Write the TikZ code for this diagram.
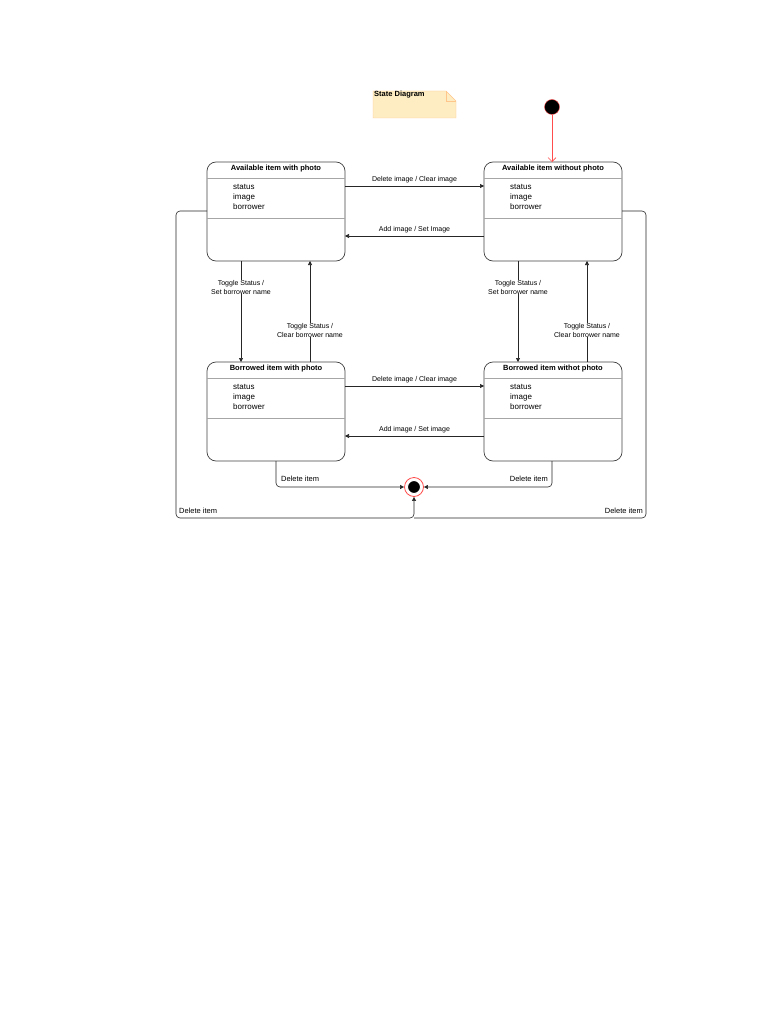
\documentclass[tikz,border=0pt]{standalone}
\usepackage{fontspec}
\setmainfont{Liberation Sans}
\usetikzlibrary{arrows.meta}
\begin{document}
\begin{tikzpicture}[x=1pt,y=-1pt,
  every node/.style={font=\fontsize{7.5}{8}\selectfont, inner sep=0pt},
  stbox/.style={draw=black!75, rounded corners=9pt, line width=0.7pt},
  sep/.style={draw=black!35, line width=0.6pt},
  conn/.style={draw=black!85, line width=0.6pt, -{Triangle[length=4pt,width=4pt]}},
  lbl/.style={align=center, font=\fontsize{7}{9}\selectfont}]
\useasboundingbox (0,0) rectangle (768,1024);
% note
\fill[yellow!45!orange!22, draw=orange!45] (373,91) -- (446,91) -- (456,101) -- (456,118) -- (373,118) -- cycle;
\draw[orange!45] (446,91) -- (446,101) -- (456,101);
\node[anchor=west, font=\bfseries\fontsize{7.5}{8}\selectfont] (note) at (374,95) {State Diagram};
% states
\foreach \n/\x/\y/\t in {awp/207/162/Available item with photo, awo/484/162/Available item without photo, bwp/207/362/Borrowed item with photo, bwo/484/362/Borrowed item withot photo}{
  \draw[stbox] (\x,\y) rectangle ++(138,99);
  \coordinate (\n) at (\x,\y);
  \draw[sep] (\x,\y+16) -- ++(138,0);
  \draw[sep] (\x,\y+56) -- ++(138,0);
  \node[font=\bfseries\fontsize{7.5}{8}\selectfont] (\n t) at (\x+69,\y+7) {\t};
  \node[anchor=north west, align=left, font=\fontsize{8}{10.3}\selectfont] (\n a) at (\x+26,\y+22) {status\\image\\borrower};
}
% initial
\node[circle, fill=black, draw=red!70, minimum size=15pt] (init) at (552,107) {};
\draw[draw=red!70, line width=0.6pt, -{Straight Barb[length=4pt]}] (init) -- (552,162);
% final
\node[circle, fill=black, minimum size=13pt, draw=white, line width=1pt] (fin) at (414,487) {};
\node[circle, draw=red!70, minimum size=19pt, line width=0.8pt] (fring) at (414,487) {};
% horizontal
\draw[conn] (345,186) -- node[above=3pt,lbl]{Delete image / Clear image} (484,186);
\draw[conn] (484,236) -- node[above=3pt,lbl]{Add image / Set Image} (345,236);
\draw[conn] (345,386) -- node[above=3pt,lbl]{Delete image / Clear image} (484,386);
\draw[conn] (484,436) -- node[above=3pt,lbl]{Add image / Set image} (345,436);
% vertical
\draw[conn] (241,261) -- (241,362);
\node[lbl, fill=white] (l1) at (241,287) {Toggle Status /\\Set borrower name};
\draw[conn] (310,362) -- (310,261);
\node[lbl, fill=white] (l2) at (310,330) {Toggle Status /\\Clear borrower name};
\draw[conn] (518,261) -- (518,362);
\node[lbl, fill=white] (l3) at (518,287) {Toggle Status /\\Set borrower name};
\draw[conn] (587,362) -- (587,261);
\node[lbl, fill=white] (l4) at (587,330) {Toggle Status /\\Clear borrower name};
% delete item
\draw[conn, rounded corners=4pt] (276,461) -- (276,487) -- (fring.west);
\draw[conn, rounded corners=4pt] (552,461) -- (552,487) -- (fring.east);
\node[anchor=west] (d1) at (281,479) {Delete item};
\node[anchor=east] (d2) at (548,479) {Delete item};
\draw[conn, rounded corners=4pt] (207,211) -- (176,211) -- (176,518) -- (414,518) -- (fring.south);
\draw[draw=black!85, line width=0.6pt, rounded corners=4pt] (622,211) -- (646,211) -- (646,518) -- (414,518);
\node[anchor=west] (d3) at (179,511) {Delete item};
\node[anchor=east] (d4) at (643,511) {Delete item};
\end{tikzpicture}
\end{document}
